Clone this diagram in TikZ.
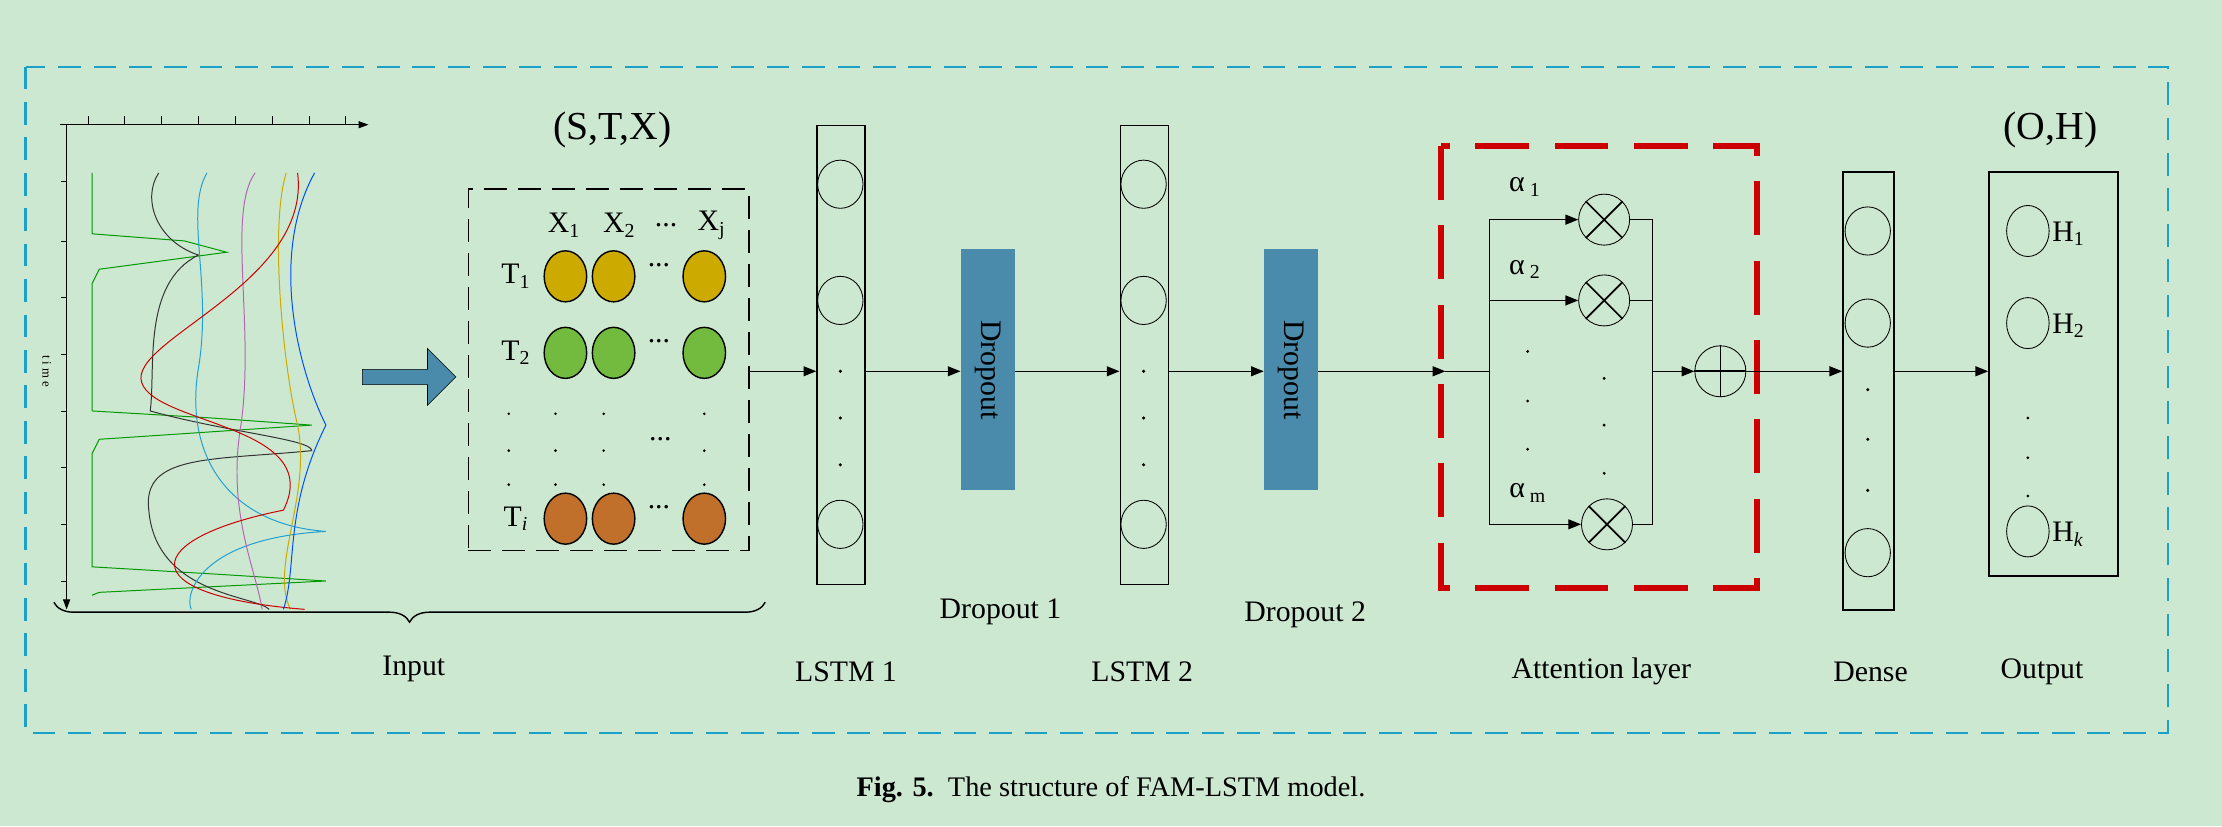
\documentclass[tikz,border=0pt]{standalone}
\usepackage{fontspec}
\setmainfont{Liberation Serif}
\usetikzlibrary{arrows.meta,decorations.pathreplacing,shapes.arrows,shapes.geometric}
\definecolor{bg}{HTML}{CDE8D0}
\definecolor{cy}{HTML}{1BA1C8}
\definecolor{dblue}{HTML}{4A8AAA}
\definecolor{yel}{HTML}{CCAA00}
\definecolor{grn}{HTML}{72BB3F}
\definecolor{org}{HTML}{C0702A}
\definecolor{rd}{HTML}{CC0000}
\newcommand{\sbs}[1]{\textsubscript{\fontsize{14}{16}\selectfont #1}}
\begin{document}
\begin{tikzpicture}[x=1pt,y=-1pt,
  lbl/.style={font=\fontsize{21}{24}\selectfont},
  big/.style={font=\fontsize{28}{32}\selectfont},
  arr/.style={-{Triangle[length=9pt,width=7pt]},line width=0.9pt},
  col/.style={draw,line width=1pt,minimum width=34pt,anchor=north west},
  cir/.style={ellipse,draw,minimum width=32pt,minimum height=34pt,inner sep=0pt,line width=0.6pt},
  dc/.style={ellipse,draw,line width=1pt,minimum width=30pt,minimum height=36pt,inner sep=0pt},
  mul/.style={circle,draw,minimum size=36pt,inner sep=0pt,line width=0.6pt},
  drop/.style={fill=dblue,minimum width=38pt,minimum height=170pt,inner sep=0pt}]
\fill[bg] (0,0) rectangle (1568,583);
\useasboundingbox (0,0) rectangle (1568,583);
\draw[cy,line width=1.5pt,dash pattern=on 16pt off 9pt] (18,47) rectangle (1530,517);
% chart axes
\draw[-{Triangle[length=7pt,width=5pt]},line width=0.7pt] (47,88) -- (47,430);
\draw[-{Triangle[length=7pt,width=5pt]},line width=0.7pt] (42,88) -- (260,88);
\foreach \x in {62,88,114,140,166,192,218,244} \draw (\x,88) -- (\x,82);
\foreach \y in {128,170,210,250,290,330,370,410} \draw (47,\y) -- (43,\y);
\node[rotate=-90,font=\small] (time) at (33,262) {t i m e};
% curves
\draw[green!50!black!80!green,line width=0.7pt] (65,122) -- (65,165) -- (130,170) -- (160,178) -- (70,190) -- (65,200) -- (65,290) -- (150,295) -- (220,300) -- (70,310) -- (65,320) -- (65,400) -- (150,405) -- (230,410) -- (70,418) -- (65,420);
\draw[black!80,line width=0.7pt] (112,122) .. controls (100,140) and (110,170) .. (140,180) .. controls (100,200) and (110,260) .. (106,290) .. controls (160,305) and (220,310) .. (220,318) .. controls (150,325) and (100,320) .. (105,360) .. controls (110,420) and (180,420) .. (190,430);
\draw[cyan!70!teal,line width=0.7pt] (146,122) .. controls (130,150) and (150,200) .. (140,260) .. controls (130,320) and (160,370) .. (230,375) .. controls (140,380) and (130,420) .. (135,430);
\draw[violet!60,line width=0.7pt] (180,122) .. controls (160,150) and (180,230) .. (170,300) .. controls (160,360) and (180,400) .. (185,430);
\draw[yel,line width=0.7pt] (202,122) .. controls (190,160) and (200,260) .. (210,300) .. controls (220,350) and (190,400) .. (205,430);
\draw[red!80!black,line width=0.7pt] (210,122) .. controls (220,200) and (90,240) .. (100,270) .. controls (110,300) and (230,300) .. (200,360) .. controls (100,380) and (90,420) .. (215,430);
\draw[blue!70!cyan,line width=0.7pt] (222,122) .. controls (190,180) and (210,260) .. (230,300) .. controls (200,360) and (210,400) .. (200,430);
\draw[decorate,decoration={brace,mirror,amplitude=14pt},line width=1pt] (38,425) -- (540,425);
\node[lbl] (input) at (292,472) {Input};
\node[single arrow,draw,fill=dblue,minimum height=66pt,minimum width=40pt,single arrow head extend=6pt,inner sep=2pt] (barr) at (286,266) {};
% matrix
\node[big] (stx) at (432,92) {(S,T,X)};
\node[draw,dash pattern=on 16pt off 8pt,line width=1pt,minimum width=198pt,minimum height=255pt,anchor=north west] (mat) at (330,133) {};
\node[lbl] (x1) at (398,159) {X\sbs{1}};
\node[lbl] (x2) at (437,159) {X\sbs{2}};
\node[lbl] (xd) at (470,159) {...};
\node[lbl] (xj) at (502,159) {X\sbs{j}};
\foreach \r/\y/\c/\t in {a/195/yel/T\sbs{1},b/249/grn/T\sbs{2},c/366/org/T\sbs{\itshape i}}{
  \node[lbl] (t\r) at (364,\y) {\t};
  \node[dc,fill=\c] (c\r1) at (399,\y) {};
  \node[dc,fill=\c] (c\r2) at (433,\y) {};
  \node[dc,fill=\c] (c\r3) at (497,\y) {};
  \node[lbl] (d\r) at (465,\y-8) {...};
}
\foreach \x in {359,392,426,497}{\foreach \y in {292,318,342}{\fill (\x,\y) circle (1pt);}}
\node[lbl] (md) at (466,310) {...};
% LSTM 1
\node[col,minimum height=324pt] (l1) at (576,88) {};
\node[lbl] (l1t) at (597,474) {LSTM 1};
\node[lbl] (d1t) at (706,432) {Dropout 1};
\node[lbl] (l2t) at (806,474) {LSTM 2};
\node[lbl] (d2t) at (921,434) {Dropout 2};
\foreach \y in {130,212,370} \node[cir] at (593,\y) {};
\foreach \y in {262,295,328} \fill (593,\y) circle (1.2pt);
\node[drop] (dr1) at (697,261) {};
\node[rotate=-90,lbl] at (dr1) {Dropout};
\node[col,minimum height=324pt] (l2) at (790,88) {};
\foreach \y in {130,212,370} \node[cir] at (807,\y) {};
\foreach \y in {262,295,328} \fill (807,\y) circle (1.2pt);
\node[drop] (dr2) at (911,261) {};
\node[rotate=-90,lbl] at (dr2) {Dropout};
\draw[arr] (mat.east |- 0,262) -- (l1.west |- 0,262);
\draw[arr] (l1.east |- 0,262) -- (dr1.west |- 0,262);
\draw[arr] (dr1.east |- 0,262) -- (l2.west |- 0,262);
\draw[arr] (l2.east |- 0,262) -- (dr2.west |- 0,262);
% attention
\draw[rd,line width=4.5pt,dash pattern=on 38pt off 18pt] (1017,103) rectangle (1240,415);
\coordinate (ain) at (1020,262);
\draw[arr] (dr2.east |- 0,262) -- (ain);
\draw[line width=0.9pt] (ain) -- (1051,262);
\draw[line width=0.9pt] (1051,155) -- (1051,370);
\node[mul] (m1) at (1132,155) {};
\node[mul] (m2) at (1132,212) {};
\node[mul] (m3) at (1134,370) {};
\foreach \m in {m1,m2,m3}{\draw[line width=1.2pt] (\m.45) -- (\m.225) (\m.135) -- (\m.315);}
\draw[arr] (1051,155) -- (m1);
\draw[arr] (1051,212) -- (m2);
\draw[arr] (1051,370) -- (m3);
\draw[line width=0.9pt] (m1) -- (1166,155) -- (1166,370) -- (m3);
\draw[line width=0.9pt] (m2) -- (1166,212);
\node[mul] (pl) at (1214,262) {};
\draw[line width=1.2pt] (pl.north) -- (pl.south) (pl.west) -- (pl.east);
\draw[arr] (1166,262) -- (pl);
\foreach \y in {248,283,317} \fill (1078,\y) circle (1.1pt);
\foreach \y in {267,300,334} \fill (1132,\y) circle (1.1pt);
\node[lbl] (a1) at (1076,132) {α\,\sbs{1}};
\node[lbl] (a2) at (1076,190) {α\,\sbs{2}};
\node[lbl] (am) at (1078,348) {α\,\sbs{m}};
\node[lbl] (att) at (1130,474) {Attention layer};
% dense
\node[col,minimum width=36pt,minimum height=309pt] (de) at (1300,121) {};
\foreach \y in {163,228,390} \node[cir] at (1318,\y) {};
\foreach \y in {275,310,346} \fill (1318,\y) circle (1.2pt);
\node[lbl] (det) at (1320,474) {Dense};
\draw[arr] (pl) -- (de.west |- 0,262);
% output
\node[col,minimum width=91pt,minimum height=285pt] (ou) at (1403,121) {};
\draw[arr] (de.east |- 0,262) -- (ou.west |- 0,262);
\node[lbl] (out) at (1441,474) {Output};
\node[big] (oh) at (1447,92) {(O,H)};
\foreach \y/\t in {163/1,228/2,375/\itshape k}{
  \node[cir,minimum width=30pt,minimum height=36pt] at (1431,\y) {};
  \node[lbl,anchor=west,inner sep=0pt] at (1448,\y+2) {H\sbs{\t}};}
\foreach \y in {295,323,350} \fill (1431,\y) circle (1.1pt);
\node[font=\fontsize{20}{24}\selectfont] (cap) at (784,557) {\textbf{Fig. 5.}\ \ The structure of FAM-LSTM model.};
\end{tikzpicture}
\end{document}
